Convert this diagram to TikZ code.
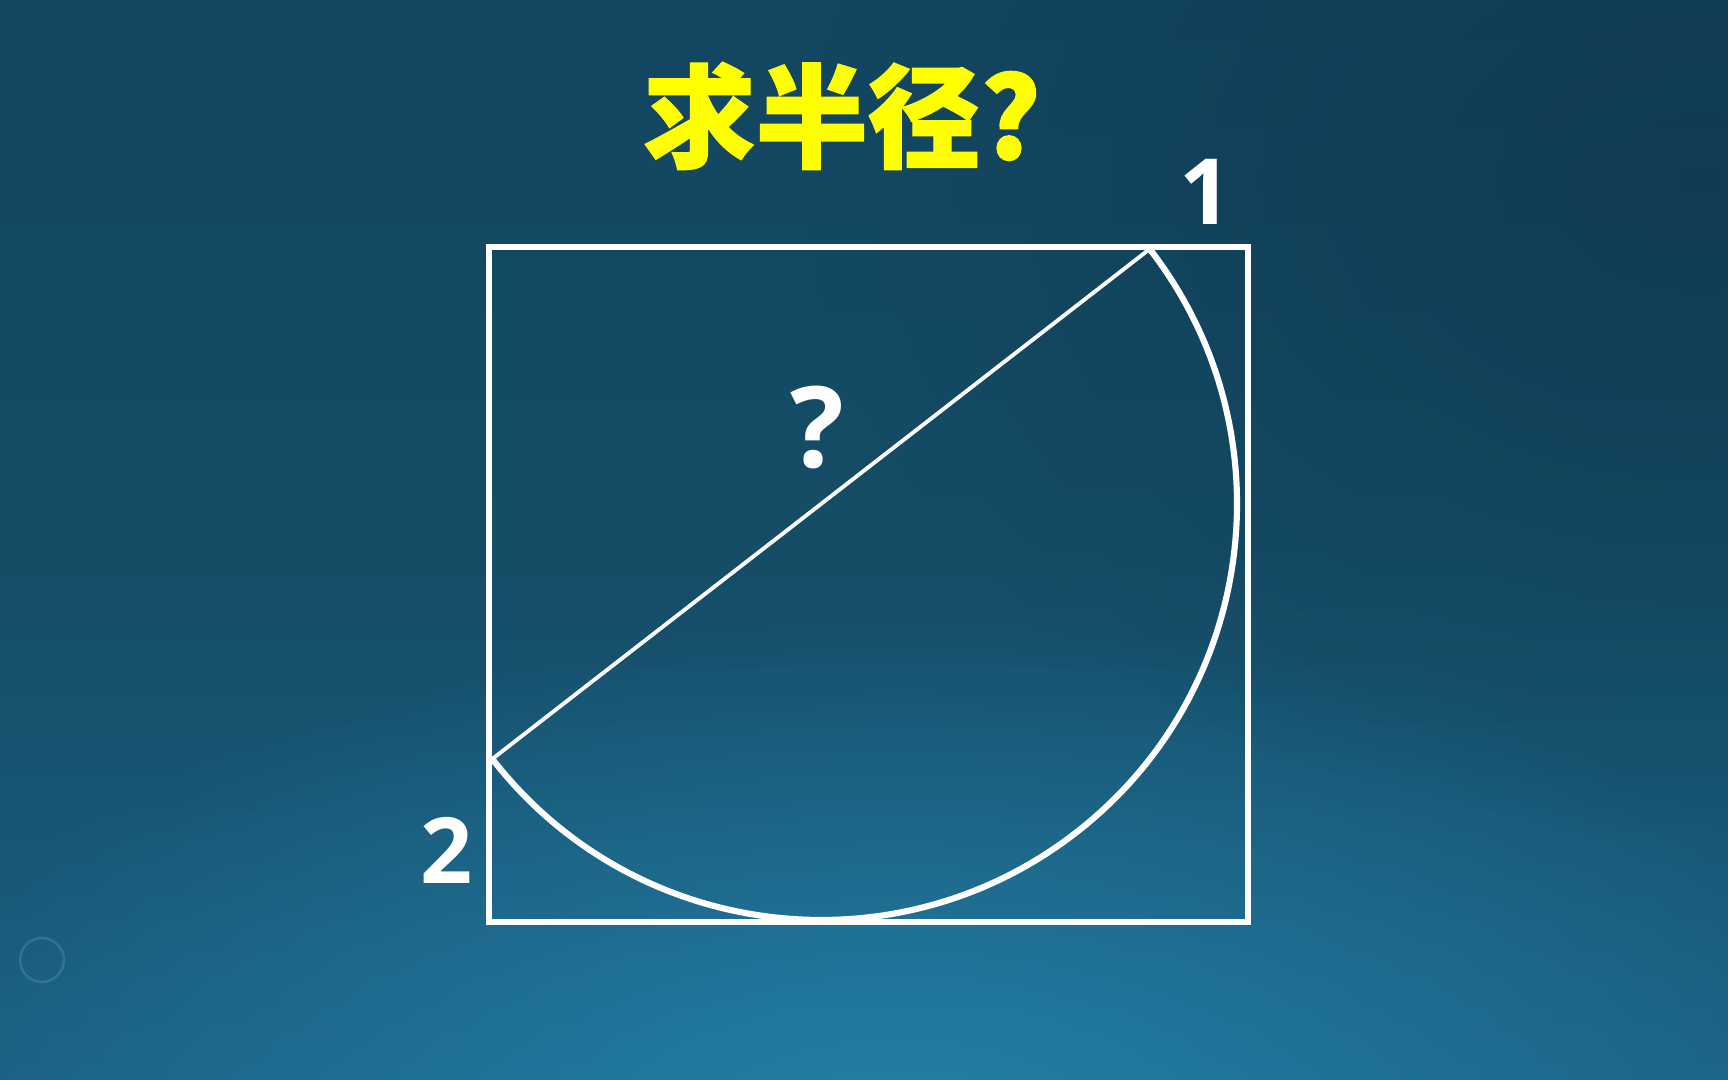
\documentclass[tikz,border=0pt]{standalone}
\usepackage{fontspec}
\newfontfamily\cjkfont{Noto Sans CJK SC}[BoldFeatures={FakeBold=1.2}]
\newfontfamily\labelfont{Open Sans}
\usetikzlibrary{
calc,
fadings,
positioning
}
\tikzset{>=latex}
\definecolor{bgtop}{HTML}{134660}
\definecolor{bgmid}{HTML}{154C66}
\definecolor{bgbot}{HTML}{1A5F80}
\definecolor{bgglow}{HTML}{2584AD}
\definecolor{bgshade}{HTML}{0B2E42}
\definecolor{titleyellow}{HTML}{FFFF00}
\tikzfading[name=glowfade, inner color=transparent!0, outer color=transparent!100]

\begin{document}
\begin{tikzpicture}[font=\labelfont\bfseries,
	frameline/.style={draw=white, line width=1.6pt},
	arcline/.style={draw=white, line width=1.75pt},
	chordline/.style={draw=white, line width=1.1pt},
	sidelabel/.style={text=white, inner sep=0pt, font=\labelfont\bfseries\fontsize{26}{28}\selectfont}]
		% background
		\useasboundingbox (0,0) rectangle (17.28,10.8);
		\shade[top color=bgtop, bottom color=bgbot, middle color=bgmid] (0,0) rectangle (17.28,10.8);
		\begin{scope}
			\clip (0,0) rectangle (17.28,10.8);
			\fill[bgshade, path fading=glowfade, opacity=0.45] (17.0,9.0) ellipse (9 and 6.5);
			\fill[bgglow, path fading=glowfade, opacity=0.9] (9.0,-0.6) ellipse (10.5 and 5.2);
		\end{scope}
		\draw[white, opacity=0.12, line width=0.7pt] (0.42,1.20) circle (0.22);
		
		\coordinate (bl) at (4.89,1.58);
		\coordinate (tr) at (12.48,8.33);
		\coordinate (centre) at (8.21,5.76);
		\coordinate (top)  at ($(centre)+(37.8:4.16)$);
		\coordinate (left) at ($(centre)+(217.8:4.16)$);
		
		\draw[frameline] (bl) rectangle (tr);
		\draw[chordline] (left) -- (top);
		\draw[arcline] (top) arc[start angle=37.8, end angle=-142.2, radius=4.16];
		
		\node[text=titleyellow, inner sep=0pt, font=\cjkfont\bfseries\fontsize{32}{36}\selectfont] (title) at (8.42,9.64) {求半径?};
		\node[sidelabel] (labelone) at (12.06,8.88) {1};
		\node[sidelabel] (labeltwo) at (4.47,2.30) {2};
		\node[sidelabel, font=\labelfont\bfseries\fontsize{32}{34}\selectfont] (question) at (8.17,6.52) {?};
	\end{tikzpicture}
\end{document}
